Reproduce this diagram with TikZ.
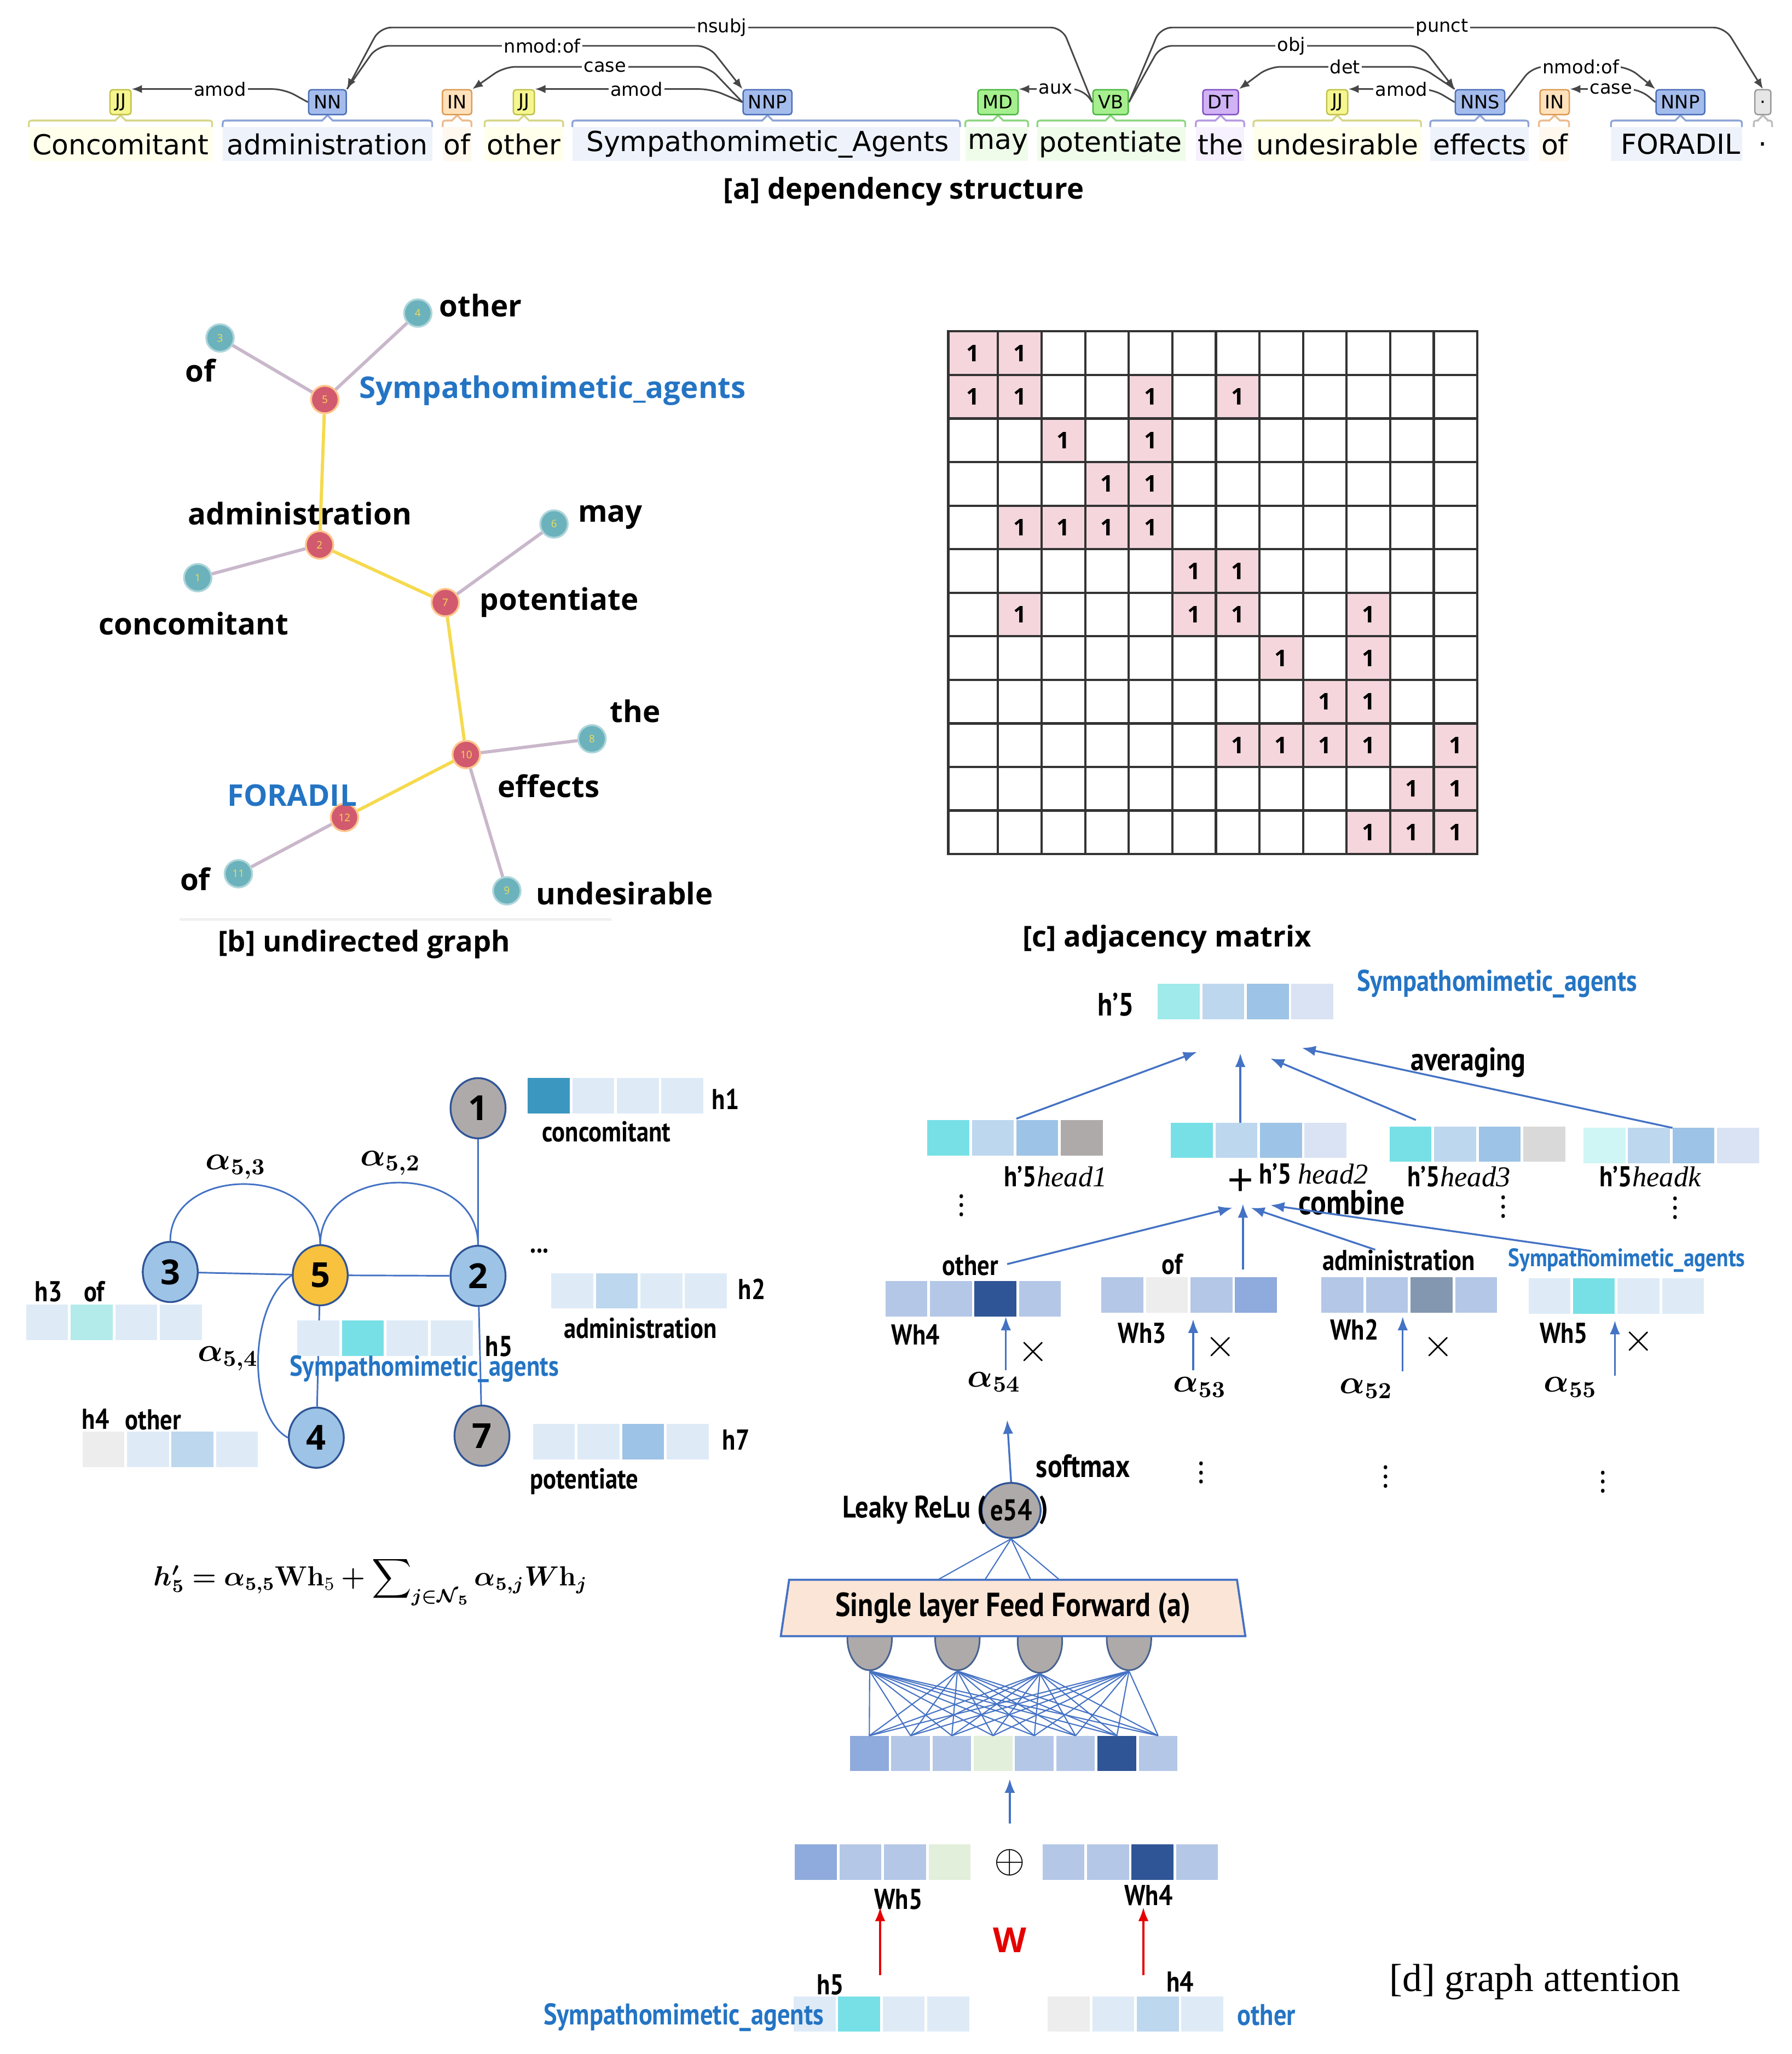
\documentclass[tikz,border=0pt]{standalone}
\usepackage{amsmath}
\usepackage{bm}
\usepackage[no-math]{fontspec}
\setmainfont{Open Sans}
\newfontfamily\depfont{DejaVu Sans}
\newfontfamily\condfont[FakeStretch=0.85]{PT Sans}
\newfontfamily\capserif{Liberation Serif}
\usetikzlibrary{arrows.meta,calc,shapes.geometric}

\definecolor{jjF}{HTML}{F6F690}
\definecolor{jjL}{HTML}{C2C24A}
\definecolor{jjW}{HTML}{FFFFEC}
\definecolor{jjB}{HTML}{D6D68A}
\definecolor{nnF}{HTML}{A4BCEC}
\definecolor{nnL}{HTML}{4C6FB9}
\definecolor{nnW}{HTML}{EEF2FB}
\definecolor{nnB}{HTML}{8EA4D6}
\definecolor{inF}{HTML}{FFE2BC}
\definecolor{inL}{HTML}{DC9A52}
\definecolor{inW}{HTML}{FFF8EE}
\definecolor{inB}{HTML}{EBBC8E}
\definecolor{vbF}{HTML}{A6EF8E}
\definecolor{vbL}{HTML}{4DB742}
\definecolor{vbW}{HTML}{EFFCEA}
\definecolor{vbB}{HTML}{8FD682}
\definecolor{dtF}{HTML}{D0B2F5}
\definecolor{dtL}{HTML}{8350C6}
\definecolor{dtW}{HTML}{F7F1FF}
\definecolor{dtB}{HTML}{B79BE0}
\definecolor{puF}{HTML}{E6E6E6}
\definecolor{puL}{HTML}{9A9A9A}
\definecolor{puW}{HTML}{FFFFFF}
\definecolor{puB}{HTML}{BDBDBD}

\definecolor{leafteal}{HTML}{6BB2BC}
\definecolor{hubred}{HTML}{D25A6E}
\definecolor{numyellow}{HTML}{F2DD55}
\definecolor{trunkyellow}{HTML}{F5DA4E}
\definecolor{twiggrey}{HTML}{C9B7CB}
\definecolor{wordblue}{HTML}{2474C4}
\definecolor{cellpink}{HTML}{F4D6DC}
\definecolor{linkblue}{HTML}{4472C4}
\definecolor{rimblue}{HTML}{2F5597}
\definecolor{nodeblue}{HTML}{9DC3E6}
\definecolor{nodeorange}{HTML}{F8C13E}
\definecolor{peach}{HTML}{FBE5D6}
\definecolor{cstone}{HTML}{AEAAAA}
\definecolor{cpale}{HTML}{DEEBF7}
\definecolor{clight}{HTML}{BDD7EE}
\definecolor{cmid}{HTML}{9DC3E6}
\definecolor{cteal}{HTML}{77E0E6}
\definecolor{cpaleteal}{HTML}{B2EBEA}
\definecolor{cpaleteal2}{HTML}{CFF5F5}
\definecolor{ctop}{HTML}{A0EAEB}
\definecolor{cdeep}{HTML}{3C97C0}
\definecolor{clav}{HTML}{DAE3F3}
\definecolor{cgray}{HTML}{D9D9D9}
\definecolor{cgrey}{HTML}{EDEDED}
\definecolor{cperi}{HTML}{B4C7E7}
\definecolor{cnavy}{HTML}{2F5597}
\definecolor{cmed}{HTML}{8FAADC}
\definecolor{cslate}{HTML}{8497B0}
\definecolor{cmint}{HTML}{E2EFDA}

\newcommand{\vcells}[4][34]{%
  \foreach \cc [count=\ci from 0] in {#4}
    \fill[\cc] ({#2+\ci*#1+1},{#3}) rectangle ({#2+(\ci+1)*#1-1},{#3+27});}

\tikzset{
  deparc/.style={black!72, line width=0.7pt, rounded corners=5pt},
  deptip/.style={-{Latex[length=4.5pt,width=3.6pt]}},
  deplab/.style={fill=white, inner sep=0.8pt, font=\depfont\fontsize{8}{9}\selectfont},
  tagbox/.style={rounded corners=1.2pt, line width=0.6pt, inner xsep=2.2pt, inner ysep=0pt,
    minimum height=0.38cm, font=\depfont\fontsize{8}{9}\selectfont},
  word/.style={inner sep=0pt, font=\depfont\fontsize{12}{14}\selectfont},
  leaf/.style={circle, fill=leafteal, draw=leafteal!55!white, line width=0.8pt, minimum size=0.42cm,
    inner sep=0pt, text=numyellow, font=\fontsize{4.5}{5}\selectfont},
  hub/.style={leaf, fill=hubred, draw=orange!45!white},
  trunk/.style={trunkyellow, line width=1.4pt},
  twig/.style={twiggrey, line width=1.4pt},
  blab/.style={inner sep=0pt, font=\bfseries\fontsize{13}{15}\selectfont},
  captext/.style={inner sep=0pt, font=\bfseries\fontsize{12.5}{15}\selectfont},
  onetxt/.style={inner sep=0pt, font=\bfseries\fontsize{10}{12}\selectfont},
  mgrid/.style={black!80, line width=1pt},
  gatn/.style={ellipse, draw=rimblue, line width=0.8pt, minimum width=0.84cm, minimum height=0.92cm,
    inner sep=0pt, font=\bfseries\fontsize{15}{15}\selectfont},
  gline/.style={linkblue, line width=0.7pt},
  dlab/.style={inner sep=0pt, font=\condfont\bfseries\fontsize{12.5}{14}\selectfont},
  barrow/.style={linkblue, line width=0.8pt, -{Latex[length=6pt,width=4.5pt]}},
  rarrow/.style={red!90!black, line width=0.8pt, -{Latex[length=6pt,width=4.5pt]}},
  thinb/.style={linkblue, line width=0.5pt},
  ffunit/.style={ellipse, fill=cstone, draw=rimblue!70!gray, line width=0.7pt, minimum width=0.68cm,
    minimum height=0.96cm},
  mathlab/.style={inner sep=0pt, font=\fontsize{14}{16}\selectfont\boldmath},
}

\begin{document}
\begin{tikzpicture}[x=0.02cm, y=-0.02cm, >=Latex]
    \useasboundingbox (0,0) rectangle (1368,1568);

    % [a] dependency structure
    \foreach \l/\r/\c/\w/\tg/\cl/\nm in {
        22/162/92/Concomitant/JJ/jj/JJa,
        170/330/250/administration/NN/nn/NN,
        338/360/349/of/IN/in/INa,
        370/430/400/other/JJ/jj/JJb,
        437/733/586/Sympathomimetic\_Agents/NNP/nn/NNPa,
        737/785/762/may/MD/vb/MD,
        792/905/848/potentiate/VB/vb/VB,
        913/950/932/the/DT/dt/DT,
        957/1085/1021/undesirable/JJ/jj/JJc,
        1092/1167/1130/effects/NNS/nn/NNS,
        1175/1198/1187/of/IN/in/INb,
        1230/1330/1283/FORADIL/NNP/nn/NNPb,
        1339/1353/1346/././pu/PU} {
      \fill[\cl W] (\l,97) rectangle (\r,123);
      \draw[\cl B, line width=0.8pt] (\l,97) .. controls (\l,92) .. (\l+4,92) -- (\c-4,92) -- (\c,88)
        -- (\c+4,92) -- (\r-4,92) .. controls (\r,92) .. (\r,97);
      \node[word] (w\nm) at (\c,110) {\w};
      \node[tagbox, draw=\cl L, fill=\cl F] (t\nm) at (\c,78) {\tg};
    }

    \draw[deparc, deptip] (tNN.west) -- (217,68) -- (tJJa.north east);
    \draw[deparc, deptip] (tVB.west) -- (811,21) -- (290,21) -- (tNN.north east);
    \draw[deparc, deptip] (tNN.north east) -- (288,35) -- (541,35) -- (tNNPa.north west);
    \draw[deparc, deptip] (tNNPa.west) -- (541,51) -- (385,51) -- (tINa.north east);
    \draw[deparc, deptip] (tNNPa.west) -- (543,68) -- (tJJb.north east);
    \draw[deparc, deptip] (tVB.west) -- (827,68) -- (tMD.north east);
    \draw[deparc, deptip] (tVB.east) -- (886,21) -- (1317,21) -- (tPU.north);
    \draw[deparc, deptip] (tVB.east) -- (886,35) -- (1085,35) -- (tNNS.north west);
    \draw[deparc, deptip] (tNNS.north west) -- (1085,51) -- (969,51) -- (tDT.north east);
    \draw[deparc, deptip] (tNNS.west) -- (1094,68) -- (tJJc.north east);
    \draw[deparc, deptip] (tNNS.east) -- (1170,51) -- (1243,51) -- (tNNPb.north west);
    \draw[deparc, deptip] (tNNPb.west) -- (1252,68) -- (tINb.north east);

    \node[deplab] (lamod1) at (168,68) {amod};
    \node[deplab] (lnsubj) at (551,21) {nsubj};
    \node[deplab] (lnmod1) at (414,35) {nmod:of};
    \node[deplab] (lcase1) at (462,51) {case};
    \node[deplab] (lamod2) at (486,68) {amod};
    \node[deplab] (laux) at (806,68) {aux};
    \node[deplab] (lpunct) at (1101,21) {punct};
    \node[deplab] (lobj) at (986,35) {obj};
    \node[deplab] (ldet) at (1027,51) {det};
    \node[deplab] (lamod3) at (1070,68) {amod};
    \node[deplab] (lnmod2) at (1207,51) {nmod:of};
    \node[deplab] (lcase2) at (1230,68) {case};

    \node[captext] (capa) at (690,146) {[a] dependency structure};

    % [b] undirected graph
    \node[hub] (g5) at (248,305) {5};
    \node[hub] (g2) at (244,416) {2};
    \node[hub] (g7) at (340,460) {7};
    \node[hub] (g10) at (356,576) {10};
    \node[hub] (g12) at (263,624) {12};
    \node[leaf] (g3) at (168,258) {3};
    \node[leaf] (g4) at (319,239) {4};
    \node[leaf] (g1) at (151,441) {1};
    \node[leaf] (g6) at (423,400) {6};
    \node[leaf] (g8) at (452,564) {8};
    \node[leaf] (g9) at (387,680) {9};
    \node[leaf] (g11) at (182,667) {11};

    \draw[trunk] (g5) -- (g2) -- (g7) -- (g10) -- (g12);
    \draw[twig] (g3) -- (g5) -- (g4);
    \draw[twig] (g1) -- (g2);
    \draw[twig] (g6) -- (g7);
    \draw[twig] (g8) -- (g10) -- (g9);
    \draw[twig] (g11) -- (g12);

    \node[blab] (bof1) at (153,283) {of};
    \node[blab] (bother) at (367,233) {other};
    \node[blab, text=wordblue] (bsym) at (422,298) {Sympathomimetic\_agents};
    \node[blab] (badmin) at (229,392) {administration};
    \node[blab] (bconc) at (148,476) {concomitant};
    \node[blab] (bmay) at (466,395) {may};
    \node[blab] (bpot) at (427,460) {potentiate};
    \node[blab] (bthe) at (485,543) {the};
    \node[blab] (beff) at (419,600) {effects};
    \node[blab, text=wordblue] (bfor) at (223,607) {FORADIL};
    \node[blab] (bof2) at (149,671) {of};
    \node[blab] (bund) at (477,682) {undesirable};
    \draw[gray!12, line width=1.2pt] (137,702) -- (467,702);
    \node[captext] (capb) at (278,721) {[b] undirected graph};

    % [c] adjacency matrix
    \foreach \ro/\co in {1/1,1/2,2/1,2/2,2/5,2/7,3/3,3/5,4/4,4/5,5/2,5/3,5/4,5/5,6/6,6/7,
        7/2,7/6,7/7,7/10,8/8,8/10,9/9,9/10,10/7,10/8,10/9,10/10,10/12,11/11,11/12,
        12/10,12/11,12/12} {
      \pgfmathsetmacro\xl{\co==1 ? 724 : 762+(\co-2)*33.27}
      \pgfmathsetmacro\xr{\co==1 ? 762 : 762+(\co-1)*33.27}
      \fill[cellpink] (\xl,{253+(\ro-1)*33.25}) rectangle (\xr,{253+\ro*33.25});
      \node[onetxt] (m\ro-\co) at ({(\xl+\xr)/2},{253+(\ro-0.5)*33.25}) {1};
    }
    \draw[mgrid] (724,253) rectangle (1128,652);
    \foreach \k in {0,...,10}
      \draw[mgrid] ({762+\k*33.27},253) -- ({762+\k*33.27},652);
    \foreach \k in {1,...,11}
      \draw[mgrid] (724,{253+\k*33.25}) -- (1128,{253+\k*33.25});
    \node[captext] (capc) at (891,717) {[c] adjacency matrix};

    % [d] graph attention, left
    \node[gatn, fill=cstone] (n1) at (365,846) {1};
    \node[gatn, fill=nodeblue] (n3) at (130,971) {3};
    \node[gatn, fill=nodeorange] (n5) at (244.5,973.5) {5};
    \node[gatn, fill=nodeblue] (n2) at (365,974) {2};
    \node[gatn, fill=nodeblue] (n4) at (241.5,1097.5) {4};
    \node[gatn, fill=cstone] (n7) at (368,1096) {7};

    \draw[gline] (n3) -- (n5) -- (n2);
    \draw[gline] (n1) -- (n2) -- (n7);
    \draw[gline] (n5) -- (n4);
    \draw[gline] (n3.north) .. controls (130,889) and (244,889) .. (n5.north);
    \draw[gline] (n5.north) .. controls (245,887) and (365,887) .. (n2.north);
    \draw[gline] (n5.west) .. controls (190,995) and (188,1080) .. (n4.west);

    \vcells{402}{823}{cdeep,cpale,cpale,cpale}
    \vcells{420}{972}{cpale,clight,cpale,cpale}
    \vcells{19}{996}{cpale,cpaleteal,cpale,cpale}
    \vcells{226}{1008}{cpale,cteal,cpale,cpale}
    \vcells{62}{1093}{cgrey,cpale,clight,cpale}
    \vcells{406}{1087}{cpale,cpale,cmid,cpale}

    \node[dlab] (lh1) at (554,839) {h1};
    \node[dlab] (lconc) at (463,864) {concomitant};
    \node[dlab] (lh2) at (574,984) {h2};
    \node[dlab] (ladmin) at (489,1014) {administration};
    \node[dlab] (lh3) at (37,986) {h3};
    \node[dlab] (lof) at (72,986) {of};
    \node[dlab] (lh5) at (381,1028) {h5};
    \node[dlab, text=wordblue] (lsym) at (324,1045) {Sympathomimetic\_agents};
    \node[dlab] (lh4) at (73,1083) {h4};
    \node[dlab] (lother) at (117,1084) {other};
    \node[dlab] (lh7) at (562,1099) {h7};
    \node[dlab] (lpot) at (446,1131) {potentiate};
    \node[mathlab] (a53) at (180,891) {$\alpha_{5,3}$};
    \node[mathlab] (a52) at (298,888) {$\alpha_{5,2}$};
    \node[mathlab] (a54) at (174,1037) {$\alpha_{5,4}$};
    \node[dlab] (ldots) at (412,955) {...};

    \node[inner sep=0pt, font=\fontsize{11.5}{14}\selectfont] (eq) at (283,1207)
      {$\bm{h'_5=\alpha_{5,5}}\mathbf{Wh}_5\bm{+}\displaystyle\sum\nolimits_{\bm{j\in\mathcal{N}_5}}\bm{\alpha_{5,j}W}\mathbf{h}_{\bm{j}}$};

    % [d] graph attention, right
    \vcells{883}{751}{ctop,clight,cmid,clav}
    \node[dlab, font=\condfont\bfseries\fontsize{14}{16}\selectfont] (hp5) at (852,767) {h’5};
    \node[dlab, text=wordblue, font=\condfont\bfseries\fontsize{13}{15}\selectfont] (symtop) at (1143,751) {Sympathomimetic\_agents};

    \vcells{707}{855}{cteal,clight,cmid,cstone}
    \vcells{893}{857}{cteal,clight,cmid,clav}
    \vcells{1060}{860}{cteal,clight,cmid,cgray}
    \vcells{1208}{861}{cpaleteal2,clight,cmid,clav}

    \coordinate (av1) at (914,803);
    \coordinate (av2) at (947,804);
    \coordinate (av3) at (970,808);
    \coordinate (av4) at (994,800);
    \coordinate (hd1) at (776,854);
    \coordinate (hd2) at (947,857);
    \coordinate (hd3) at (1081,855);
    \coordinate (hd4) at (1277,861);
    \foreach \k in {1,...,4}
      \draw[barrow] (hd\k) -- (av\k);
    \node[dlab, font=\condfont\bfseries\fontsize{14}{16}\selectfont] (lavg) at (1121,811) {averaging};

    \node[dlab] (hl1) at (806,898) {h’5{\capserif\mdseries\itshape head1}};
    \node[dlab] (hl2) at (1003,896) {h’5 {\capserif\mdseries\itshape head2}};
    \node[dlab] (hl3) at (1114,898) {h’5{\capserif\mdseries\itshape head3}};
    \node[dlab] (hl4) at (1260,898) {h’5{\capserif\mdseries\itshape headk}};
    \node[inner sep=0pt, font=\fontsize{13}{13}\selectfont] (vd1) at (734,915) {$\vdots$};
    \node[inner sep=0pt, font=\fontsize{13}{13}\selectfont] (vd2) at (1148,916) {$\vdots$};
    \node[inner sep=0pt, font=\fontsize{13}{13}\selectfont] (vd3) at (1279,917) {$\vdots$};
    \node[inner sep=0pt, font=\fontsize{20}{20}\selectfont] (plus) at (947,903) {+};
    \node[dlab, font=\condfont\bfseries\fontsize{15}{17}\selectfont] (lcomb) at (1032,918) {combine};

    \coordinate (cb1) at (941,922);
    \coordinate (cb2) at (949,919);
    \coordinate (cb3) at (955,922);
    \coordinate (cb4) at (970,920);
    \coordinate (rt1) at (769,965);
    \coordinate (rt2) at (949,969);
    \coordinate (rt3) at (1050,954);
    \coordinate (rt4) at (1215,955);
    \foreach \k in {1,...,4}
      \draw[barrow] (rt\k) -- (cb\k);

    \vcells{675}{978}{cperi,cperi,cnavy,cperi}
    \vcells{840}{975}{cperi,cgrey,cperi,cmed}
    \vcells{1008}{975}{cperi,cperi,cslate,cperi}
    \vcells{1166}{976}{cpale,cteal,cpale,cpale}
    \node[dlab] (rother) at (741,966) {other};
    \node[dlab] (rof) at (895,965) {of};
    \node[dlab] (radmin) at (1068,962) {administration};
    \node[dlab, text=wordblue, font=\condfont\bfseries\fontsize{11}{13}\selectfont] (rsym) at (1242,962) {Sympathomimetic\_agents};
    \node[dlab] (rwh4) at (699,1019) {Wh4};
    \node[dlab] (rwh3) at (872,1018) {Wh3};
    \node[dlab] (rwh2) at (1034,1015) {Wh2};
    \node[dlab] (rwh5) at (1194,1018) {Wh5};

    \coordinate (up1) at (768,1046);
    \coordinate (up2) at (911,1046);
    \coordinate (up3) at (1071,1047);
    \coordinate (up4) at (1233,1050);
    \coordinate (ut1) at (768,1005);
    \coordinate (ut2) at (911,1007);
    \coordinate (ut3) at (1071,1005);
    \coordinate (ut4) at (1233,1008);
    \foreach \k in {1,...,4}
      \draw[barrow] (up\k) -- (ut\k);
    \node[inner sep=0pt, font=\fontsize{16}{16}\selectfont] (x1) at (789,1032) {$\times$};
    \node[inner sep=0pt, font=\fontsize{16}{16}\selectfont] (x2) at (932,1028) {$\times$};
    \node[inner sep=0pt, font=\fontsize{16}{16}\selectfont] (x3) at (1098,1028) {$\times$};
    \node[inner sep=0pt, font=\fontsize{16}{16}\selectfont] (x4) at (1251,1024) {$\times$};
    \node[mathlab] (al54) at (759,1055) {$\alpha_{54}$};
    \node[mathlab] (al53) at (916,1059) {$\alpha_{53}$};
    \node[mathlab] (al52) at (1043,1060) {$\alpha_{52}$};
    \node[mathlab] (al55) at (1199,1059) {$\alpha_{55}$};

    \node[ellipse, fill=cstone, draw=rimblue, line width=0.8pt, minimum width=0.88cm, minimum height=0.84cm,
      inner sep=0pt, font=\condfont\bfseries\fontsize{13}{15}\selectfont] (e54) at (772,1153) {e54};
    \coordinate (smax) at (769,1084);
    \draw[barrow] (e54.north) -- (smax);
    \node[dlab, font=\condfont\bfseries\fontsize{14}{16}\selectfont] (lsoft) at (827,1119) {softmax};
    \node[inner sep=0pt, font=\fontsize{13}{13}\selectfont] (vd4) at (917,1119) {$\vdots$};
    \node[inner sep=0pt, font=\fontsize{13}{13}\selectfont] (vd5) at (1058,1122) {$\vdots$};
    \node[inner sep=0pt, font=\fontsize{13}{13}\selectfont] (vd6) at (1224,1126) {$\vdots$};
    \node[dlab, anchor=east, font=\condfont\bfseries\fontsize{13.5}{16}\selectfont] (leaky) at (753,1153) {Leaky ReLu (};
    \node[dlab, font=\condfont\bfseries\fontsize{13.5}{16}\selectfont] (rpar) at (797,1153) {)};

    \node[ffunit] (u1) at (664,1251) {};
    \node[ffunit] (u2) at (731,1251) {};
    \node[ffunit] (u3) at (794,1253) {};
    \node[ffunit] (u4) at (862,1251) {};
    \vcells[31.5]{648}{1325}{cmed,cperi,cperi,cmint,cperi,cperi,cnavy,cperi}
    \foreach \k in {0,...,7}
      \coordinate (ct\k) at ({648+(\k+0.5)*31.5},1325);
    \foreach \u in {1,...,4}
      \foreach \k in {0,...,7}
        \draw[thinb] (u\u.south) -- (ct\k);

    \node[trapezium, trapezium angle=78, trapezium stretches=true, minimum width=7.1cm, minimum height=0.86cm,
      fill=peach, draw=linkblue, line width=0.9pt, inner sep=0pt,
      font=\condfont\bfseries\fontsize{14.5}{16}\selectfont] (ff) at (773.5,1227.5) {Single layer Feed Forward (a)};
    \coordinate (ft1) at (716,1206);
    \coordinate (ft2) at (752,1206);
    \coordinate (ft3) at (787,1206);
    \coordinate (ft4) at (809,1206);
    \foreach \k in {1,...,4}
      \draw[thinb] (e54.south) -- (ft\k);

    \coordinate (cat) at (771,1392);
    \coordinate (cattip) at (771,1358);
    \draw[barrow] (cat) -- (cattip);

    \vcells{606}{1408}{cmed,cperi,cperi,cmint}
    \vcells{795}{1408}{cperi,cperi,cnavy,cperi}
    \node[inner sep=0pt, font=\fontsize{16}{16}\selectfont] (oplus) at (771,1422) {$\oplus$};
    \node[dlab] (lwh5) at (686,1450) {Wh5};
    \node[dlab] (lwh4) at (877,1447) {Wh4};

    \coordinate (rw1) at (672,1508);
    \coordinate (rw1tip) at (672,1456);
    \coordinate (rw2) at (873,1508);
    \coordinate (rw2tip) at (873,1456);
    \draw[rarrow] (rw1) -- (rw1tip);
    \draw[rarrow] (rw2) -- (rw2tip);
    \node[inner sep=0pt, text=red!90!black, font=\bfseries\fontsize{15}{17}\selectfont] (lw) at (771,1481) {W};

    \node[dlab] (bh5) at (634,1515) {h5};
    \node[dlab] (bh4) at (901,1513) {h4};
    \vcells{605}{1524}{cpale,cteal,cpale,cpale}
    \vcells{799}{1524}{cgrey,cpale,clight,cpale}
    \node[dlab, text=wordblue, font=\condfont\bfseries\fontsize{13}{15}\selectfont] (bsym2) at (522,1540) {Sympathomimetic\_agents};
    \node[dlab, text=wordblue, font=\condfont\bfseries\fontsize{13}{15}\selectfont] (bother2) at (967,1538) {other};

    \node[inner sep=0pt, font=\capserif\fontsize{17}{20}\selectfont] (capd) at (1172,1513) {[d] graph attention};
\end{tikzpicture}
\end{document}
